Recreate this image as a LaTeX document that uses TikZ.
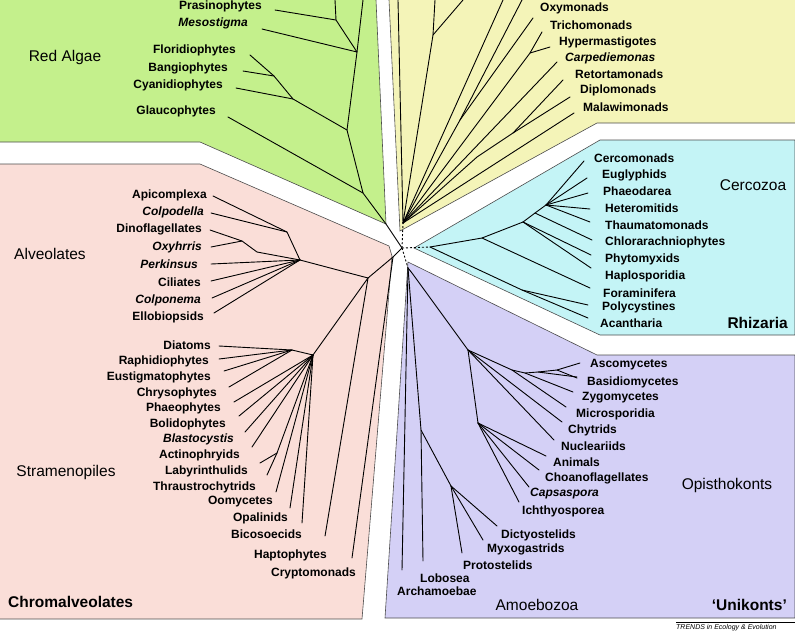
\documentclass[tikz,border=0pt]{standalone}
\usepackage{fontspec}
\setmainfont{Liberation Sans}
\begin{document}
\begin{tikzpicture}[x=1pt,y=-1pt,
  lf/.style={font=\fontsize{12}{13}\selectfont\bfseries, inner sep=0pt},
  lfi/.style={lf, font=\fontsize{12}{13}\selectfont\bfseries\itshape},
  grp/.style={font=\fontsize{15.5}{17}\selectfont, inner sep=0pt},
  grpb/.style={font=\fontsize{15.5}{17}\selectfont\bfseries, inner sep=0pt},
  br/.style={line width=0.9pt, line cap=round},
  dsh/.style={line width=0.9pt, dash pattern=on 2pt off 2pt},
  panel/.style={draw=black!70, line width=0.6pt}]
\useasboundingbox (0,0) rectangle (795,630);
\definecolor{cgreen}{RGB}{196,240,140}
\definecolor{cyellow}{RGB}{244,244,184}
\definecolor{ccyan}{RGB}{196,244,246}
\definecolor{cpurple}{RGB}{212,208,246}
\definecolor{cpink}{RGB}{250,222,216}
% panels
\fill[cgreen] (0,0) -- (376,0) -- (386,224) -- (200,142) -- (0,142) -- cycle;
\draw[panel] (0,142) -- (200,142) -- (386,224) -- (376,0);
\fill[cyellow] (389,0) -- (795,0) -- (795,123) -- (597,123) -- (400,231) -- cycle;
\draw[panel] (389,0) -- (400,231) -- (597,123) -- (795,123);
\fill[ccyan] (600,140) -- (795,140) -- (795,335) -- (600,335) -- (414,248) -- cycle;
\draw[panel] (795,140) -- (600,140) -- (414,248) -- (600,335) -- (795,335) -- cycle;
\fill[cpurple] (597,355) -- (795,355) -- (795,618) -- (385,618) -- (408,262) -- cycle;
\draw[panel] (597,355) -- (795,355) -- (795,618) -- (385,618) -- (408,262) -- cycle;
\fill[cpink] (0,164) -- (200,164) -- (389,246) -- (392,256) -- (362,619) -- (0,619) -- cycle;
\draw[panel] (0,164) -- (200,164) -- (389,246) -- (392,256) -- (362,619) -- (0,619);

% group labels
\node[grp] (tRA) at (65,57) {Red Algae};
\node[grp] (tAl) at (50,254) {Alveolates};
\node[grp] (tSt) at (66,472) {Stramenopiles};
\node[grpb,anchor=west] (tCh) at (8,602) {Chromalveolates};
\node[grp] (tCe) at (753,185) {Cercozoa};
\node[grpb,anchor=east] (tRh) at (788,323) {Rhizaria};
\node[grp] (tOp) at (727,485) {Opisthokonts};
\node[grp] (tAm) at (537,605) {Amoebozoa};
\node[grpb,anchor=east] (tUn) at (787,605) {`Unikonts'};
\node[font=\fontsize{7}{8}\selectfont\itshape, anchor=west, inner sep=0pt] (tTr) at (676,628) {TRENDS in Ecology \& Evolution};
\draw[line width=0.4pt] (676,622) -- (795,622);

% root
\coordinate (R) at (402,248);

% ---------- green
\node[lf,anchor=east] (prs) at (262,6) {Prasinophytes};
\node[lfi,anchor=east] (mes) at (248,23) {Mesostigma};
\node[lf,anchor=east] (flo) at (236,50) {Floridiophytes};
\node[lf,anchor=east] (ban) at (228,68) {Bangiophytes};
\node[lf,anchor=east] (cya) at (223,85) {Cyanidiophytes};
\node[lf,anchor=east] (gla) at (216,111) {Glaucophytes};
\coordinate (G1) at (386,224); \coordinate (G2) at (363,193);
\coordinate (G3) at (347,130); \coordinate (G4) at (357,52);
\coordinate (G5) at (336,20); \coordinate (G6) at (293,99); \coordinate (G7) at (274,76);
\coordinate (g1) at (275,10); \coordinate (g2) at (262,29); \coordinate (g3) at (250,55);
\coordinate (g4) at (243,71); \coordinate (g5) at (236,88); \coordinate (g6) at (228,117);
\coordinate (gt1) at (335,0); \coordinate (gt2) at (363,0);
\draw[br] (R) -- (G1) -- (G2) -- (G3) -- (G4) -- (G5) -- (gt1);
\draw[br] (G5) -- (g1); \draw[br] (G4) -- (g2); \draw[br] (G4) -- (gt2);
\draw[br] (G3) -- (G6) -- (G7) -- (g3); \draw[br] (G7) -- (g4); \draw[br] (G6) -- (g5);
\draw[br] (G2) -- (g6);

% ---------- yellow
\node[lf,anchor=west] (oxy) at (540,8) {Oxymonads};
\node[lf,anchor=west] (tri) at (550,25) {Trichomonads};
\node[lf,anchor=west] (hyp) at (559,42) {Hypermastigotes};
\node[lfi,anchor=west] (car) at (565,58) {Carpediemonas};
\node[lf,anchor=west] (ret) at (575,74) {Retortamonads};
\node[lf,anchor=west] (dip) at (580,90) {Diplomonads};
\node[lf,anchor=west] (mal) at (583,107) {Malawimonads};
\coordinate (Y0) at (403,223); \coordinate (Yt) at (433,35);
\coordinate (Yn) at (460,120); \coordinate (Yh) at (530,53);
\coordinate (Ya) at (477,157); \coordinate (Yb) at (513,133);
\coordinate (y1) at (533,18); \coordinate (y2) at (542,32); \coordinate (y3) at (550,47);
\coordinate (y4) at (557,62); \coordinate (y5) at (563,80); \coordinate (y6) at (570,97);
\coordinate (y7) at (574,113);
\coordinate (yt0) at (398,0); \coordinate (yt1) at (435,0); \coordinate (yt2) at (463,0);
\coordinate (yt3) at (503,0); \coordinate (yt4) at (522,0);
\draw[dsh] (R) -- (Y0);
\draw[br] (Y0) -- (yt0); \draw[br] (Y0) -- (Yt) -- (yt1); \draw[br] (Yt) -- (yt2);
\draw[br] (Y0) -- (yt3); \draw[br] (Y0) -- (Yn) -- (yt4);
\draw[br] (Yn) -- (y1); \draw[br] (Y0) -- (Yh) -- (y2); \draw[br] (Yh) -- (y3);
\draw[br] (Y0) -- (y4); \draw[br] (Y0) -- (Ya) -- (Yb) -- (y5); \draw[br] (Yb) -- (y6);
\draw[br] (Y0) -- (y7);

% ---------- cyan
\node[lf,anchor=west] (cer) at (594,158) {Cercomonads};
\node[lf,anchor=west] (eug) at (602,175) {Euglyphids};
\node[lf,anchor=west] (pha) at (603,191) {Phaeodarea};
\node[lf,anchor=west] (het) at (605,208) {Heteromitids};
\node[lf,anchor=west] (tha) at (605,225) {Thaumatomonads};
\node[lf,anchor=west] (chl) at (605,242) {Chlorarachniophytes};
\node[lf,anchor=west] (phy) at (605,259) {Phytomyxids};
\node[lf,anchor=west] (hap) at (605,276) {Haplosporidia};
\node[lf,anchor=west] (for) at (603,293) {Foraminifera};
\node[lf,anchor=west] (pol) at (602,307) {Polycystines};
\node[lf,anchor=west] (aca) at (600,323) {Acantharia};
\coordinate (C0) at (430,247); \coordinate (C1) at (482,238); \coordinate (C2) at (523,222);
\coordinate (C3) at (535,213); \coordinate (C4) at (546,205); \coordinate (Cr) at (522,290);
\draw[dsh] (R) -- (C0);
\draw[br] (C0) -- (C1) -- (C2) -- (C3) -- (C4);
\draw[br] (C4) -- (584,161); \draw[br] (C4) -- (587,178); \draw[br] (C4) -- (588,193);
\draw[br] (C4) -- (590,209); \draw[br] (C4) -- (590,222);
\draw[br] (C3) -- (592,240); \draw[br] (C2) -- (591,255); \draw[br] (C2) -- (591,268);
\draw[br] (C1) -- (590,288); \draw[br] (C0) -- (Cr) -- (588,305); \draw[br] (Cr) -- (588,318);

% ---------- purple
\node[lf,anchor=west] (asc) at (590,365) {Ascomycetes};
\node[lf,anchor=west] (bas) at (587,382) {Basidiomycetes};
\node[lf,anchor=west] (zyg) at (582,398) {Zygomycetes};
\node[lf,anchor=west] (mic) at (576,414) {Microsporidia};
\node[lf,anchor=west] (chy) at (568,430) {Chytrids};
\node[lf,anchor=west] (nuc) at (561,446) {Nucleariids};
\node[lf,anchor=west] (ani) at (553,462) {Animals};
\node[lf,anchor=west] (cho) at (545,478) {Choanoflagellates};
\node[lfi,anchor=west] (cap) at (530,494) {Capsaspora};
\node[lf,anchor=west] (ich) at (522,511) {Ichthyosporea};
\node[lf,anchor=west] (dic) at (501,535) {Dictyostelids};
\node[lf,anchor=west] (myx) at (487,549) {Myxogastrids};
\node[lf,anchor=west] (pro) at (463,565) {Protostelids};
\node[lf,anchor=west] (lob) at (420,578) {Lobosea};
\node[lf,anchor=west] (arc) at (397,591) {Archamoebae};
\coordinate (U0) at (408,268); \coordinate (U1) at (421,430); \coordinate (U2) at (451,486);
\coordinate (O0) at (412,273); \coordinate (O1) at (468,350); \coordinate (O2) at (478,423);
\coordinate (F1) at (512,370); \coordinate (F2) at (525,373); \coordinate (F3) at (538,372);
\coordinate (F4) at (557,370);
\draw[dsh] (R) -- (U0);
\draw[br] (U0) -- (402,570); \draw[br] (U0) -- (U1) -- (423,561);
\draw[br] (U1) -- (U2) -- (462,553); \draw[br] (U2) -- (483,540); \draw[br] (U2) -- (497,526);
\draw[br] (U0) -- (O0) -- (O1) -- (O2);
\draw[br] (O2) -- (546,456); \draw[br] (O2) -- (539,470); \draw[br] (O2) -- (529,487); \draw[br] (O2) -- (519,502);
\draw[br] (O1) -- (554,440); \draw[br] (O1) -- (562,422);
\draw[br] (O1) -- (F1) -- (566,407); \draw[br] (F1) -- (F2) -- (573,392);
\draw[br] (F2) -- (F3) -- (577,377); \draw[br] (F3) -- (F4) -- (580,363); \draw[br] (F4) -- (577,378);

% ---------- pink
\node[lf,anchor=east] (api) at (207,195) {Apicomplexa};
\node[lfi,anchor=east] (col) at (204,212) {Colpodella};
\node[lf,anchor=east] (din) at (202,229) {Dinoflagellates};
\node[lfi,anchor=east] (oxh) at (202,247) {Oxyhrris};
\node[lfi,anchor=east] (per) at (198,264) {Perkinsus};
\node[lf,anchor=east] (cil) at (201,282) {Ciliates};
\node[lfi,anchor=east] (cln) at (201,300) {Colponema};
\node[lf,anchor=east] (ell) at (204,317) {Ellobiopsids};
\node[lf,anchor=east] (dia) at (211,345) {Diatoms};
\node[lf,anchor=east] (rap) at (209,361) {Raphidiophytes};
\node[lf,anchor=east] (eus) at (211,377) {Eustigmatophytes};
\node[lf,anchor=east] (chr) at (217,393) {Chrysophytes};
\node[lf,anchor=east] (pho) at (221,408) {Phaeophytes};
\node[lf,anchor=east] (bol) at (226,424) {Bolidophytes};
\node[lfi,anchor=east] (bla) at (234,439) {Blastocystis};
\node[lf,anchor=east] (act) at (240,455) {Actinophryids};
\node[lf,anchor=east] (lab) at (248,471) {Labyrinthulids};
\node[lf,anchor=east] (thr) at (256,487) {Thraustrochytrids};
\node[lf,anchor=east] (oom) at (273,502) {Oomycetes};
\node[lf,anchor=east] (opa) at (288,518) {Opalinids};
\node[lf,anchor=east] (bic) at (302,534) {Bicosoecids};
\node[lf,anchor=east] (hpt) at (327,555) {Haptophytes};
\node[lf,anchor=east] (cry) at (356,573) {Cryptomonads};
\coordinate (P0) at (393,257); \coordinate (P1) at (368,278);
\coordinate (A0) at (300,260); \coordinate (A1) at (287,232);
\coordinate (A2) at (257,252); \coordinate (A3) at (242,241);
\coordinate (S0) at (313,355); \coordinate (S1) at (292,350); \coordinate (S2) at (277,453);
\draw[br] (R) -- (P0) -- (352,558);
\draw[br] (P0) -- (P1) -- (325,536);
\draw[br] (P1) -- (A0) -- (A1) -- (213,196); \draw[br] (A1) -- (211,213);
\draw[br] (A0) -- (A2) -- (A3) -- (210,230); \draw[br] (A3) -- (211,247);
\draw[br] (A0) -- (211,264); \draw[br] (A0) -- (211,281); \draw[br] (A0) -- (212,298); \draw[br] (A0) -- (214,313);
\draw[br] (P1) -- (S0) -- (S1) -- (219,346); \draw[br] (S1) -- (219,359);
\draw[br] (S1) -- (224,371); \draw[br] (S1) -- (229,387); \draw[br] (S0) -- (234,402);
\draw[br] (S0) -- (239,416); \draw[br] (S0) -- (245,432); \draw[br] (S0) -- (252,447);
\draw[br] (S0) -- (S2) -- (260,463); \draw[br] (S2) -- (267,475);
\draw[br] (S0) -- (276,492); \draw[br] (S0) -- (290,508); \draw[br] (S0) -- (302,523);
\end{tikzpicture}
\end{document}
